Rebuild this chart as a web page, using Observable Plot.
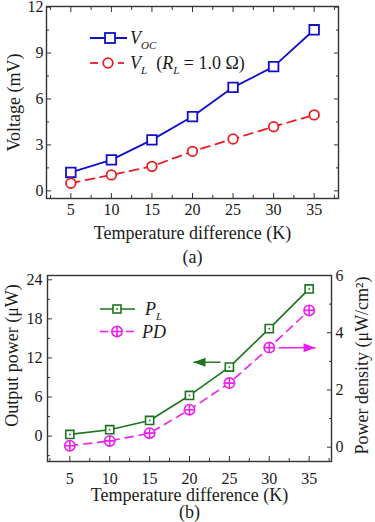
<!DOCTYPE html>
<html><head><meta charset="utf-8">
<script src="https://cdn.jsdelivr.net/npm/d3@7"></script>
<script src="https://cdn.jsdelivr.net/npm/@observablehq/plot@0.6"></script>
<style>
body{margin:0;background:#fff;}
#c{width:375px;}
#c svg{display:block;}
</style></head><body><div id="c"></div>
<script>
// ---- data ----
const temps = [5, 10, 15, 20, 25, 30, 35];
const voc = [1.2, 2.02, 3.33, 4.85, 6.76, 8.11, 10.52];
const vl = [0.5, 1.04, 1.6, 2.58, 3.39, 4.19, 4.96];
const pl = [0.26, 0.98, 2.4, 6.24, 10.6, 16.5, 22.6];
const pd = [0.05, 0.22, 0.49, 1.31, 2.24, 3.48, 4.78];

const xTicks = [5, 10, 15, 20, 25, 30, 35];
const xMinor = [2.5, 7.5, 12.5, 17.5, 22.5, 27.5, 32.5, 37.5];
const vTicks = [0, 3, 6, 9, 12];
const vMinor = [1.5, 4.5, 7.5, 10.5];
const pTicks = [0, 6, 12, 18, 24];
const pMinor = [-3, 3, 9, 15, 21];
const dTicks = [0, 2, 4, 6];
const dMinor = [1, 3, 5];

const xLabel = "Temperature difference (K)";
const vLabel = "Voltage (mV)";
const pLabel = "Output power (μW)";
const dLabel = "Power density (μW/cm²)";

// annotation arrows (bottom panel)
const arrowLeft = {x1: 23.9, x2: 20.5, y: 11.35};
const arrowRight = {x1: 31.2, x2: 35.8, yRight: 3.475};

const BLUE = "#1010c8", RED = "#ec1c24", GREEN = "#1c741c", MAG = "#f01ef0";
const FONT = "Liberation Serif, Times New Roman, serif";

// left/right scale mapping for bottom panel
const leftDom = [-3.9, 24.66], rightDom = [-0.5, 6];
const kLR = (leftDom[1] - leftDom[0]) / (rightDom[1] - rightDom[0]);
const toLeft = v => leftDom[0] + (v - rightDom[0]) * kLR;
const fromLeft = v => rightDom[0] + (v - leftDom[0]) / kLR;

const rowsA = temps.map((t, i) => ({t, voc: voc[i], vl: vl[i]}));
const rowsB = temps.map((t, i) => ({t, pl: pl[i], pd: pd[i], pdL: toLeft(pd[i])}));

const plusCircle = {draw(ctx, size) {
  const r = Math.sqrt(size / Math.PI);
  ctx.moveTo(r, 0); ctx.arc(0, 0, r, 0, 2 * Math.PI);
  ctx.moveTo(-r, 0); ctx.lineTo(r, 0);
  ctx.moveTo(0, -r); ctx.lineTo(0, r);
}};
const headLeft = {draw(ctx) { ctx.moveTo(0, 0); ctx.lineTo(12, -4.5); ctx.lineTo(12, 4.5); ctx.closePath(); }};
const headRight = {draw(ctx) { ctx.moveTo(0, 0); ctx.lineTo(-12, -4.5); ctx.lineTo(-12, 4.5); ctx.closePath(); }};

const blank = () => "";
const axStyle = {fontSize: 16, fill: "#1a1a1a", label: null, stroke: "#333"};
const lab = {text: d => d, fontSize: 18, fill: "#1a1a1a", textAnchor: "middle", lineAnchor: "middle"};

// ---- panel (a) ----
const plotA = Plot.plot({
  width: 375, height: 268,
  marginTop: 6, marginRight: 37, marginBottom: 70, marginLeft: 46,
  style: {fontFamily: FONT, fontSize: "16px", background: "transparent", overflow: "visible"},
  x: {domain: [2, 38]},
  y: {domain: [-0.5, 12.04]},
  marks: [
    Plot.axisX(xTicks, {...axStyle, anchor: "bottom", tickSize: -5, tickPadding: 10}),
    Plot.axisX(xMinor, {...axStyle, anchor: "bottom", tickSize: -3, tickFormat: blank}),
    Plot.axisX(xTicks, {...axStyle, anchor: "top", tickSize: -5, tickFormat: blank}),
    Plot.axisX(xMinor, {...axStyle, anchor: "top", tickSize: -3, tickFormat: blank}),
    Plot.axisY(vTicks, {...axStyle, anchor: "left", tickSize: -5, tickPadding: 8}),
    Plot.axisY(vMinor, {...axStyle, anchor: "left", tickSize: -3, tickFormat: blank}),
    Plot.axisY(vTicks, {...axStyle, anchor: "right", tickSize: -5, tickFormat: blank}),
    Plot.axisY(vMinor, {...axStyle, anchor: "right", tickSize: -3, tickFormat: blank}),
    Plot.frame({stroke: "#333", strokeWidth: 1.4}),
    Plot.line(rowsA, {x: "t", y: "voc", stroke: BLUE, strokeWidth: 1.8}),
    Plot.line(rowsA, {x: "t", y: "vl", stroke: RED, strokeWidth: 1.8, strokeDasharray: "9,6"}),
    Plot.dot(rowsA, {x: "t", y: "voc", symbol: "square", r: 5.4, stroke: BLUE, fill: "white", strokeWidth: 1.8}),
    Plot.dot(rowsA, {x: "t", y: "vl", symbol: "circle", r: 4.8, stroke: RED, fill: "white", strokeWidth: 1.8}),
    Plot.text([xLabel], {...lab, frameAnchor: "bottom", dy: 35}),
    Plot.text(["(a)"], {...lab, frameAnchor: "bottom", dy: 59}),
    Plot.text([vLabel], {...lab, frameAnchor: "left", rotate: -90, dx: -32})
  ]
});

// ---- panel (b) ----
const plotB = Plot.plot({
  width: 375, height: 254,
  marginTop: 7, marginRight: 44, marginBottom: 61, marginLeft: 47,
  style: {fontFamily: FONT, fontSize: "16px", background: "transparent", overflow: "visible"},
  x: {domain: [2.2, 37.8]},
  y: {domain: leftDom},
  marks: [
    Plot.axisX(xTicks, {...axStyle, anchor: "bottom", tickSize: -5, tickPadding: 16}),
    Plot.axisX(xMinor, {...axStyle, anchor: "bottom", tickSize: -3, tickFormat: blank}),
    Plot.axisY(pTicks, {...axStyle, anchor: "left", tickSize: -5, tickPadding: 10}),
    Plot.axisY(pMinor, {...axStyle, anchor: "left", tickSize: -3, tickFormat: blank}),
    Plot.axisY(dTicks.map(toLeft), {...axStyle, anchor: "right", tickSize: -5, tickPadding: 9,
      tickFormat: v => String(Math.round(fromLeft(v)))}),
    Plot.axisY(dMinor.map(toLeft), {...axStyle, anchor: "right", tickSize: -3, tickFormat: blank}),
    Plot.frame({stroke: "#333", strokeWidth: 1.4}),
    Plot.line(rowsB, {x: "t", y: "pl", stroke: GREEN, strokeWidth: 1.6}),
    Plot.line(rowsB, {x: "t", y: "pdL", stroke: MAG, strokeWidth: 1.6, strokeDasharray: "8,6"}),
    Plot.dot(rowsB, {x: "t", y: "pl", symbol: "square", r: 4.6, stroke: GREEN, fill: "white", strokeWidth: 1.6}),
    Plot.dot(rowsB, {x: "t", y: "pl", r: 0.9, fill: GREEN}),
    Plot.dot(rowsB, {x: "t", y: "pdL", symbol: plusCircle, r: 5.2, stroke: MAG, fill: "white", strokeWidth: 1.6}),
    Plot.link([arrowLeft], {x1: "x1", x2: "x2", y1: "y", y2: "y", stroke: GREEN, strokeWidth: 1.4}),
    Plot.dot([arrowLeft], {x: "x2", y: "y", symbol: headLeft, fill: GREEN, stroke: "none"}),
    Plot.link([arrowRight], {x1: "x1", x2: "x2", y1: d => toLeft(d.yRight), y2: d => toLeft(d.yRight), stroke: MAG, strokeWidth: 1.4}),
    Plot.dot([arrowRight], {x: "x2", y: d => toLeft(d.yRight), symbol: headRight, fill: MAG, stroke: "none"}),
    Plot.text([xLabel], {...lab, frameAnchor: "bottom", dy: 34}),
    Plot.text(["(b)"], {...lab, frameAnchor: "bottom", dy: 51}),
    Plot.text([pLabel], {...lab, frameAnchor: "left", rotate: -90, dx: -35, dy: -13}),
    Plot.text([dLabel], {...lab, frameAnchor: "right", rotate: -90, dx: 31, dy: -3})
  ]
});

const root = document.getElementById("c");
root.appendChild(plotA);
root.appendChild(plotB);

// ---- legends (decoration drawn with d3) ----
function legendText(g, x, y, parts) {
  const t = g.append("text").attr("x", x).attr("y", y).attr("dy", "0.35em")
    .attr("text-anchor", "start")
    .attr("font-family", FONT).attr("font-size", 18).attr("fill", "#1a1a1a");
  let shift = 0;
  for (const p of parts) {
    const s = t.append("tspan").text(p.t);
    if (p.i) s.attr("font-style", "italic");
    if (p.sub && shift === 0) { s.attr("dy", 5).attr("font-size", 11); shift = 5; }
    else if (!p.sub && shift !== 0) { s.attr("dy", -shift); shift = 0; }
    else if (p.sub) s.attr("font-size", 11);
  }
}
{
  const g = d3.select(plotA).append("g");
  g.append("line").attr("x1", 90).attr("x2", 127).attr("y1", 38).attr("y2", 38).attr("stroke", BLUE).attr("stroke-width", 1.8);
  g.append("rect").attr("x", 105).attr("y", 33).attr("width", 10).attr("height", 10).attr("fill", "white").attr("stroke", BLUE).attr("stroke-width", 1.8);
  legendText(g, 130, 38, [{t: "V", i: 1}, {t: "OC", i: 1, sub: 1}]);
  g.append("line").attr("x1", 90).attr("x2", 98).attr("y1", 63).attr("y2", 63).attr("stroke", RED).attr("stroke-width", 1.8);
  g.append("line").attr("x1", 118).attr("x2", 124).attr("y1", 63).attr("y2", 63).attr("stroke", RED).attr("stroke-width", 1.8);
  g.append("circle").attr("cx", 108).attr("cy", 63).attr("r", 4.8).attr("fill", "white").attr("stroke", RED).attr("stroke-width", 1.8);
  legendText(g, 130, 63, [{t: "V", i: 1}, {t: "L", i: 1, sub: 1}, {t: "  ("}, {t: "R", i: 1}, {t: "L", i: 1, sub: 1}, {t: " = 1.0 Ω)"}]);
}
{
  const g = d3.select(plotB).append("g");
  g.append("line").attr("x1", 100).attr("x2", 135).attr("y1", 41).attr("y2", 41).attr("stroke", GREEN).attr("stroke-width", 1.6);
  g.append("rect").attr("x", 113).attr("y", 37).attr("width", 8).attr("height", 8).attr("fill", "white").attr("stroke", GREEN).attr("stroke-width", 1.6);
  g.append("circle").attr("cx", 117).attr("cy", 41).attr("r", 0.9).attr("fill", GREEN);
  legendText(g, 145, 41, [{t: "P", i: 1}, {t: "L", i: 1, sub: 1}]);
  g.append("line").attr("x1", 100).attr("x2", 108).attr("y1", 63.5).attr("y2", 63.5).attr("stroke", MAG).attr("stroke-width", 1.6);
  g.append("line").attr("x1", 126).attr("x2", 134).attr("y1", 63.5).attr("y2", 63.5).attr("stroke", MAG).attr("stroke-width", 1.6);
  const pc = d3.path(); plusCircle.draw(pc, Math.PI * 5.2 * 5.2);
  g.append("path").attr("transform", "translate(117,63.5)").attr("d", pc.toString()).attr("fill", "white").attr("stroke", MAG).attr("stroke-width", 1.6);
  legendText(g, 142, 63.5, [{t: "PD", i: 1}]);
}
</script></body></html>
